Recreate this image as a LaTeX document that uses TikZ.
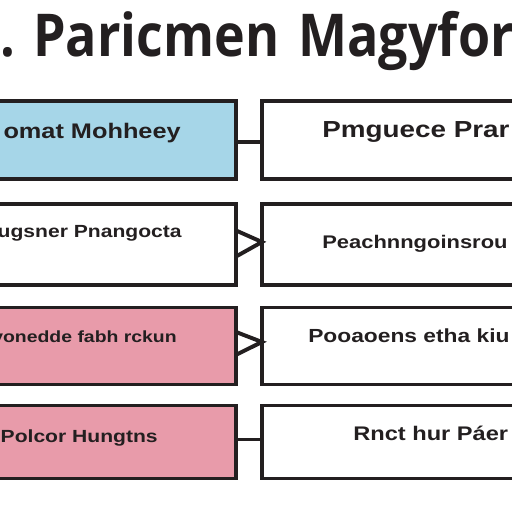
\documentclass[tikz,border=0pt]{standalone}
\usepackage{fontspec}
\setmainfont{Liberation Sans}
\newfontfamily\titlefont[FakeStretch=0.88]{Open Sans}
\newfontfamily\boxfont[FakeStretch=1.2]{Liberation Sans}
\definecolor{boxblue}{RGB}{166,214,232}
\definecolor{boxpink}{RGB}{232,155,170}
\definecolor{ink}{RGB}{35,31,32}
\newcommand{\bsize}[1]{\boxfont\fontsize{#1}{#1}\selectfont\bfseries}
\tikzset{
    box/.style={draw=ink,line width=2.8pt,inner sep=0pt,outer sep=0pt},
    lbox/.style={box,minimum width=7.9cm},
    rbox/.style={box,minimum width=8.45cm},
    txt/.style={inner sep=0pt,text=ink},
    conn/.style={draw=ink,line width=2.8pt,line join=miter}
}
\begin{document}
\begin{tikzpicture}[x=0.025cm,y=-0.025cm]
    \useasboundingbox(0,0)rectangle(512,512);
    \clip(0,0)rectangle(512,512);
    \node[inner sep=0pt,anchor=base west,text=ink,font=\titlefont\fontsize{42}{48}\selectfont\bfseries](title)at(0,57){. Paricmen\hspace{0.1em} Magyfor};

        \node[lbox,fill=boxblue,minimum height=1.95cm](l1)at(78,140){};
        \node[rbox,minimum height=1.95cm](r1)at(431,140){};
        \node[lbox,fill=white,minimum height=2.025cm](l2)at(78,244.5){};
        \node[rbox,minimum height=2.025cm](r2)at(431,244.5){};
        \node[lbox,fill=boxpink,minimum height=1.925cm](l3)at(78,346){};
        \node[rbox,minimum height=1.925cm](r3)at(431,346){};
        \node[lbox,fill=boxpink,minimum height=1.825cm](l4)at(78,442){};
        \node[rbox,minimum height=1.825cm](r4)at(431,442){};

        \node[txt,anchor=base east,font=\bsize{15}](t1)at(181,138){omat Mohheey};
        \node[txt,anchor=base west,font=\bsize{16.5}](u1)at(322,137){Pmguece Prar};
        \node[txt,anchor=base east,font=\bsize{12.5}](t2)at(182,237){ugsner Pnangocta};
        \node[txt,anchor=base west,font=\bsize{13}](u2)at(322,248){Peachnngoinsrou};
        \node[txt,anchor=base east,font=\bsize{11.5}](t3)at(177,342){vonedde fabh rckun};
        \node[txt,anchor=base west,font=\bsize{13.5}](u3)at(308,342){Pooaoens etha kiu};
        \node[txt,anchor=base east,font=\bsize{12.5}](t4)at(158,442){iPolcor Hungtns};
        \node[txt,anchor=base west,font=\bsize{14}](u4)at(353,440){Rnct hur Páer};

        \draw[conn](l1.east|-0,142)--(r1.west|-0,142);
        \draw[conn]([yshift=0.35cm]l2.east)--(r2.west|-0,242)--([yshift=-0.3cm]l2.east);
        \draw[conn]([yshift=0.35cm]l3.east)--(r3.west|-0,342)--([yshift=-0.22cm]l3.east);
        \draw[conn](l4.east|-0,439.5)--(r4.west|-0,439.5);
\end{tikzpicture}
\end{document}
